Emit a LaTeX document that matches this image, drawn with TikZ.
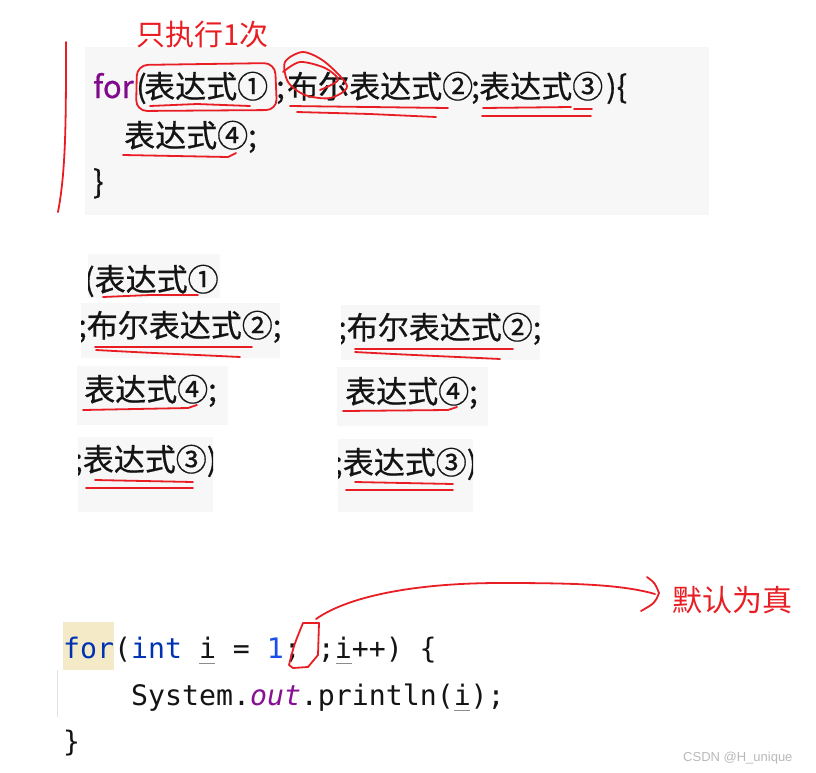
\documentclass[tikz,border=0pt]{standalone}
\usepackage{fontspec}
\newfontfamily\cjk{Noto Sans CJK SC}[FakeBold=0.6]
\newfontfamily\cjkred{Noto Sans CJK SC}
\newfontfamily\mono{DejaVu Sans Mono}
\newfontfamily\wmfont{Liberation Sans}
\definecolor{annred}{RGB}{232,30,36}
\definecolor{codegray}{RGB}{247,247,247}
\definecolor{forpurple}{RGB}{128,10,140}
\definecolor{kwblue}{RGB}{0,51,179}
\definecolor{numblue}{RGB}{23,80,235}
\definecolor{outpurple}{RGB}{135,16,148}
\definecolor{hlcol}{RGB}{245,234,200}
\definecolor{txt}{RGB}{20,20,20}
\definecolor{wmgray}{RGB}{185,185,185}
\definecolor{guidegray}{RGB}{225,225,225}
\definecolor{ulgray}{RGB}{140,140,140}
\tikzset{
  codebg/.style={fill=codegray, draw=none},
  ann/.style={draw=annred, line width=1.8pt, line cap=round, line join=round},
  cjktext/.style={inner sep=0pt, anchor=base west, text=txt, font=\cjk\fontsize{31}{36}\selectfont},
  redlabel/.style={inner sep=0pt, anchor=base west, text=annred, font=\cjkred\fontsize{29}{34}\selectfont},
  monotext/.style={inner sep=0pt, anchor=base west, text=txt, font=\mono\fontsize{28.2}{34}\selectfont\frenchspacing},
  wmark/.style={inner sep=0pt, anchor=base west, text=wmgray, font=\wmfont\fontsize{13}{15}\selectfont},
  ulline/.style={draw=ulgray, line width=1pt},
}
\begin{document}
\begin{tikzpicture}[x=1pt,y=-1pt]
\useasboundingbox (0,0) rectangle (816,772);
\fill[white] (0,0) rectangle (816,772);

% ---------- top code block ----------
\fill[codebg] (85,47) rectangle (709,215);
\node[redlabel] (once) at (136,45) {只执行1次};
\node[cjktext, text=forpurple] (kwfor) at (93,98) {for};
\node[cjktext] (p1) at (136,98) {(};
\node[cjktext] (e1) at (144,98) {表达式①};
\node[cjktext] (s1) at (276,98) {;};
\node[cjktext] (e2) at (287,98) {布尔表达式②};
\node[cjktext] (s2) at (471,98) {;};
\node[cjktext] (e3) at (479,98) {表达式③};
\node[cjktext] (cl) at (606,98) {)\{};
\node[cjktext] (e4) at (124,147) {表达式④;};
\node[cjktext] (rb) at (93,193) {\}};

% top annotations
\draw[ann] (66,42) .. controls (66,120) and (66,170) .. (58,212);
\draw[ann, rounded corners=11pt] (137,65) -- (275,63) -- (277,110) -- (136,111) -- cycle;
\draw[ann] (150,106) -- (197,104) -- (250,106);
\draw[ann] plot[smooth cycle] coordinates {(285,62) (303,52) (325,62) (347,86) (330,98) (305,95) (288,82)};
\draw[ann] plot[smooth] coordinates {(283,72) (300,62) (325,68) (338,80) (320,90)};
\draw[ann] (290,106) -- (448,108);
\draw[ann] (297,112) -- (370,114) -- (436,117);
\draw[ann] (483,108) -- (571,107);
\draw[ann] (574,109) -- (592,109);
\draw[ann] (482,116) -- (591,116);
\draw[ann] (123,155) -- (228,157) -- (236,153);

% ---------- middle snippets, left ----------
\fill[codebg] (88,254) rectangle (220,298);
\begin{scope}
\clip (88,254) rectangle (220,298);
\node[cjktext] (m1) at (84,291) {(表达式①};
\end{scope}
\draw[ann] (103,297) -- (150,295) -- (198,295);

\fill[codebg] (81,303) rectangle (280,358);
\begin{scope}
\clip (81,303) rectangle (280,358);
\node[cjktext] (m2) at (78,337) {;布尔表达式②;};
\end{scope}
\draw[ann] (95,347) -- (252,347);
\draw[ann] (96,350) .. controls (150,353) and (200,355) .. (240,357);

\fill[codebg] (77,366) rectangle (228,425);
\node[cjktext] (m3) at (84,401) {表达式④;};
\draw[ann] (83,410) -- (188,408) -- (197,405);

\fill[codebg] (78,437) rectangle (213,512);
\begin{scope}
\clip (78,437) rectangle (213,512);
\node[cjktext] (m4) at (74,471) {;表达式③)};
\end{scope}
\draw[ann] (95,480) -- (193,482);
\draw[ann] (86,488) -- (193,488);

% ---------- middle snippets, right ----------
\fill[codebg] (341,305) rectangle (540,360);
\begin{scope}
\clip (341,305) rectangle (540,360);
\node[cjktext] (n2) at (338,339) {;布尔表达式②;};
\end{scope}
\draw[ann] (355,349) -- (513,349);
\draw[ann] (355,352) .. controls (410,355) and (460,357) .. (500,359);

\fill[codebg] (337,367) rectangle (488,426);
\node[cjktext] (n3) at (345,403) {表达式④;};
\draw[ann] (343,411) -- (448,410) -- (457,407);

\fill[codebg] (338,439) rectangle (473,512);
\begin{scope}
\clip (338,439) rectangle (473,512);
\node[cjktext] (n4) at (334,474) {;表达式③)};
\end{scope}
\draw[ann] (355,482) -- (453,484);
\draw[ann] (346,490) -- (453,490);

% ---------- bottom code ----------
\fill[hlcol] (63,622) rectangle (114,670);
\draw[guidegray, line width=1pt] (57,670) -- (57,717);
\node[monotext] (l1) at (63,658) {\textcolor{kwblue}{for}(\textcolor{kwblue}{int} i = \textcolor{numblue}{1}; ;i++) \{};
\node[monotext] (l2) at (131,705) {System.\textcolor{outpurple}{\itshape out}.println(i);};
\node[monotext] (l3) at (63,751) {\}};
\draw[ulline] (199,663) -- (215,663);
\draw[ulline] (336,663) -- (352,663);
\draw[ulline] (454,710) -- (470,710);

% bottom annotations
\draw[ann] (289,665) .. controls (294,645) .. (303,623) -- (319,623) -- (318,655) -- (308,667) -- (293,668) -- (289,665);
\coordinate (cstart) at (316,619);
\coordinate (ctip) at (655,594);
\draw[ann] (cstart) .. controls (350,595) and (420,583) .. (500,583) .. controls (570,583) and (620,584) .. (ctip);
\draw[ann] (647,577) .. controls (655,583) .. (659,593) .. controls (655,603) .. (641,611);
\node[redlabel, font=\cjkred\fontsize{30}{34}\selectfont] (dflt) at (672,611) {默认为真};

\node[wmark] (mark) at (683,761) {CSDN @H\_unique};
\end{tikzpicture}
\end{document}
